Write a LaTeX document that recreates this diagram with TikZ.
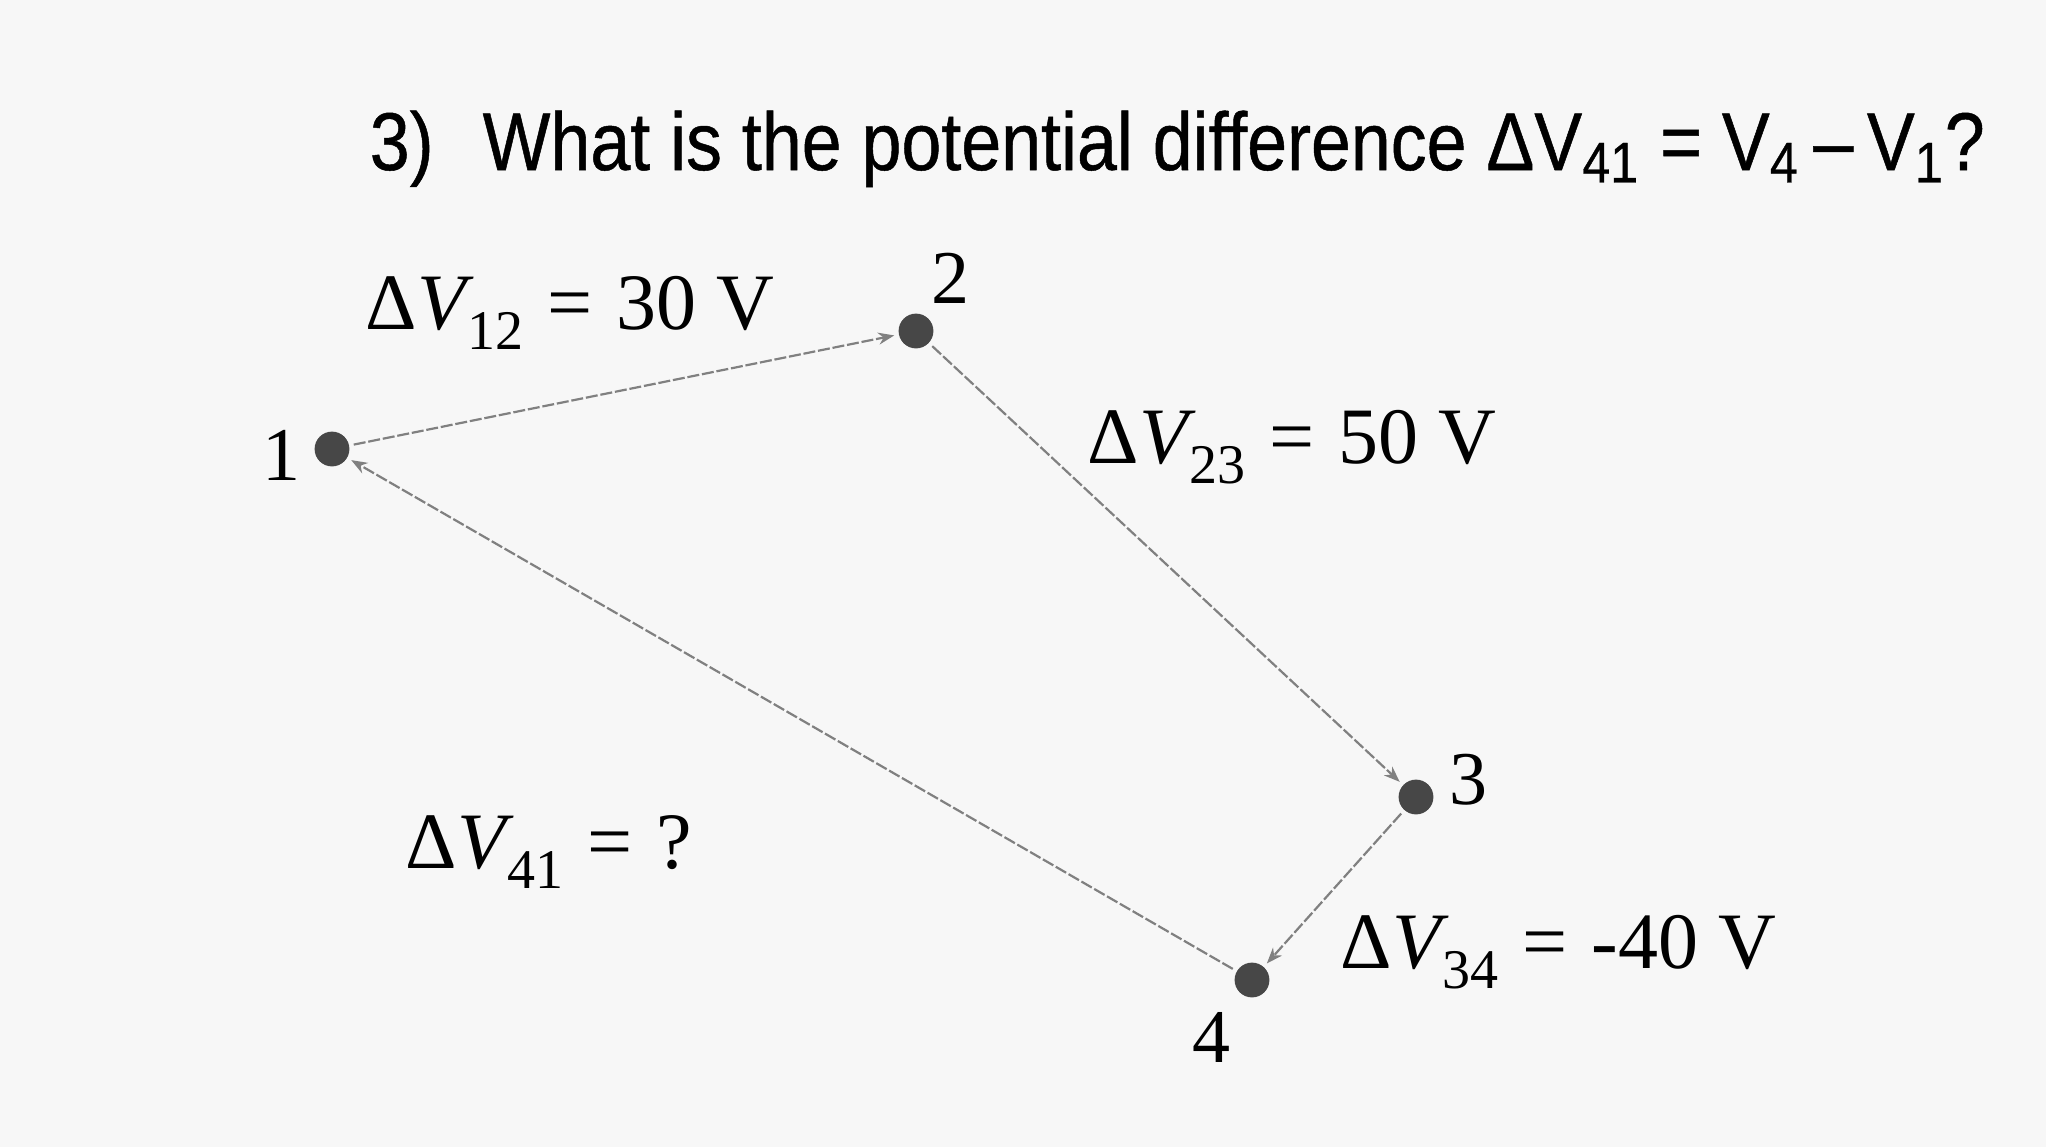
\documentclass[tikz,border=0pt]{standalone}
\usepackage{fontspec}
\setmainfont{Liberation Serif}
\newfontfamily\titlefont[FakeStretch=0.875, FakeBold=0.6]{Liberation Sans}
\newcommand{\dvlab}[1]{Δ\textit{V}\kern-0.08em\raisebox{-0.55ex}{\fontsize{14}{15}\selectfont #1}}
\newcommand{\eqsign}{\hspace{0.3em}=\hspace{0.3em}}
\tikzset{
   pt/.style={circle, fill=black!72, inner sep=0pt, minimum size=8.7pt},
   lab/.style={font=\fontsize{19}{22}\selectfont, inner sep=0pt},
   eq/.style={font=\fontsize{20}{24}\selectfont, inner sep=0pt, anchor=base west},
   link/.style={draw=black!50, line width=0.55pt, dash pattern=on 3pt off 0.7pt, -{Stealth[length=4pt, width=3pt]}, shorten >=1pt, shorten <=1pt}
}
\usetikzlibrary{arrows.meta}
\begin{document}
\begin{tikzpicture}[x=0.25pt, y=-0.25pt]
       \useasboundingbox[fill=black!3] (0,0) rectangle (2046,1147);
       \draw (369,170) node[anchor=base west, inner sep=0pt](title){\titlefont\fontsize{20.5}{24}\selectfont 3)\hspace{0.6em}What is the potential difference ΔV\textsubscript{41} = V\textsubscript{4}\,–\,V\textsubscript{1}?};

       \draw (332,449) node[pt](p1){}
       (916,331) node[pt](p2){}
       (1416,797) node[pt](p3){}
       (1252,980) node[pt](p4){};

       \draw (281,455) node[lab](n1){1}
       (950,278) node[lab](n2){2}
       (1468,780) node[lab](n3){3}
       (1211,1037) node[lab](n4){4};

       \draw (365,329) node[eq](v12){\dvlab{12}\eqsign 30 V}
       (1087,463) node[eq](v23){\dvlab{23}\eqsign 50 V}
       (405,868) node[eq](v41){\dvlab{41}\eqsign ?}
       (1340,968) node[eq](v34){\dvlab{34}\eqsign -40 V};

       \draw[link] (p1) -- (p2);
       \draw[link] (p2) -- (p3);
       \draw[link] (p3) -- (p4);
       \draw[link] (p4) -- (p1);
    \end{tikzpicture}
\end{document}
